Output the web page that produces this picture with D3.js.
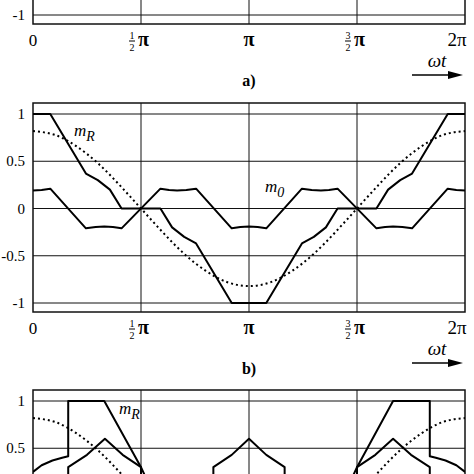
<!DOCTYPE html>
<html><head><meta charset="utf-8">
<script src="https://cdn.jsdelivr.net/npm/d3@7"></script>
<style>body{margin:0;background:#fff}</style>
</head><body>
<script>
// x values in units of pi
var xTicks = [0, 0.5, 1, 1.5, 2],
    yTicks = [1, 0.5, 0, -0.5, -1],
    yLabels = ["1", "0.5", "0", "-0.5", "-1"];

var cosX = [0,0.1,0.2,0.3,0.4,0.5,0.6,0.7,0.8,0.9,1,1.1,1.2,1.3,1.4,1.5,1.6,1.7,1.8,1.9,2],
    cosY = [0.82,0.78,0.66,0.48,0.25,0,-0.25,-0.48,-0.66,-0.78,-0.82,-0.78,-0.66,-0.48,-0.25,0,0.25,0.48,0.66,0.78,0.82];

var bR_x = [0,0.08,0.245,0.30,0.356,0.41,0.59,0.644,0.70,0.755,0.92,1.08,1.245,1.30,1.356,1.41,1.59,1.644,1.70,1.755,1.92,2],
    bR_y = [1,1,0.37,0.30,0.20,0,0,-0.2,-0.3,-0.37,-1,-1,-0.37,-0.3,-0.2,0,0,0.2,0.3,0.37,1,1];

var b0_x = [0,0.04,0.08,0.245,0.29,0.33,0.37,0.41,0.59,0.63,0.667,0.71,0.755,0.92,0.96,1,1.04,1.08,1.245,1.29,1.333,1.37,1.41,1.59,1.63,1.667,1.71,1.755,1.92,1.96,2],
    b0_y = [0.19,0.195,0.21,-0.21,-0.195,-0.19,-0.195,-0.21,0.21,0.195,0.19,0.195,0.21,-0.21,-0.195,-0.19,-0.195,-0.21,0.21,0.195,0.19,0.195,0.21,-0.21,-0.195,-0.19,-0.195,-0.21,0.21,0.195,0.19];

var cR_x = [0,0.04,0.09,0.135,0.163,0.163,0.33,0.5,0.56,1.44,1.5,1.667,1.837,1.837,1.865,1.91,1.96,2],
    cR_y = [0.25,0.32,0.37,0.40,0.415,1,1,0.3,0,0,0.3,1,1,0.415,0.40,0.37,0.32,0.25];

var c0_segs = [
  {x: [0.163,0.163,0.25,0.333,0.415,0.5,0.5], y: [0,0.3,0.43,0.6,0.43,0.3,0]},
  {x: [0.835,0.835,0.92,1,1.08,1.165,1.165], y: [0,0.3,0.43,0.6,0.43,0.3,0]},
  {x: [1.5,1.5,1.585,1.667,1.75,1.837,1.837], y: [0,0.3,0.43,0.6,0.43,0.3,0]}
];

var W = 474, H = 474, FONT = "'Liberation Serif', 'DejaVu Serif', serif";
var svg = d3.select("body").append("svg").attr("width", W).attr("height", H)
    .attr("font-family", FONT);
var x = d3.scaleLinear().domain([0, 2]).range([33, 465]);

function zip(xs, ys) { return xs.map(function(v, i) { return [v, ys[i]]; }); }

function panel(y1, opts) {
    var y = d3.scaleLinear().domain([-1, 1]).range([y1 + 189, y1]);
    var g = svg.append("g");
    var top = y1 - 11, bot = y1 + 189 + 9;
    g.selectAll(".hg").data(yTicks).join("line")
        .attr("x1", x(0)).attr("x2", x(2))
        .attr("y1", function(d) { return y(d); }).attr("y2", function(d) { return y(d); })
        .attr("stroke", "#111").attr("stroke-width", 1);
    g.selectAll(".vg").data(xTicks.slice(1, 4)).join("line")
        .attr("x1", function(d) { return x(d); }).attr("x2", function(d) { return x(d); })
        .attr("y1", top).attr("y2", bot)
        .attr("stroke", "#111").attr("stroke-width", 1);
    g.append("rect").attr("x", x(0)).attr("y", top).attr("width", x(2) - x(0)).attr("height", bot - top)
        .attr("fill", "none").attr("stroke", "#111").attr("stroke-width", 1.5);
    g.selectAll(".yl").data(yTicks.filter(function(d) { return y(d) > 8 && y(d) < H - 6; })).join("text")
        .attr("x", 25).attr("y", function(d) { return y(d) + 5; })
        .attr("text-anchor", "end").attr("font-size", 15)
        .text(function(d) { return yLabels[yTicks.indexOf(d)]; });

    var line = d3.line().x(function(d) { return x(d[0]); }).y(function(d) { return y(d[1]); });
    var cg = g.append("g");
    if (opts.clip) {
        svg.append("clipPath").attr("id", "clip" + y1).append("rect")
            .attr("x", x(0)).attr("y", top).attr("width", x(2) - x(0)).attr("height", bot - top);
        cg.attr("clip-path", "url(#clip" + y1 + ")");
    }
    (opts.curves || []).forEach(function(c) {
        cg.append("path").attr("d", line.curve(c.curve || d3.curveLinear)(zip(c.x, c.y)))
            .attr("fill", "none").attr("stroke", "#000").attr("stroke-width", 2)
            .attr("stroke-dasharray", c.dash || null).attr("stroke-linejoin", "round");
    });
    (opts.labels || []).forEach(function(l) {
        var t = g.append("text").attr("x", l.x).attr("y", l.y).attr("font-size", 17).attr("font-style", "italic").text("m");
        t.append("tspan").attr("dy", 5).attr("font-size", 14).text(l.sub);
    });
    if (opts.ticks) {
        var ty = bot + 22;
        xTicks.forEach(function(d, i) {
            var cx = x(d);
            if (i === 0) g.append("text").attr("x", cx).attr("y", ty).attr("text-anchor", "middle").attr("font-size", 17).text("0");
            else if (i === 2) g.append("text").attr("x", cx).attr("y", ty).attr("text-anchor", "middle").attr("font-size", 20).attr("font-weight", "bold").text("\u03c0");
            else if (i === 4) g.append("text").attr("x", cx - 8).attr("y", ty).attr("text-anchor", "middle").attr("font-size", 19).text("2\u03c0");
            else {
                g.append("text").attr("x", cx - 9).attr("y", ty - 7).attr("text-anchor", "middle").attr("font-size", 10).text(i === 1 ? "1" : "3");
                g.append("line").attr("x1", cx - 12).attr("x2", cx - 6).attr("y1", ty - 5).attr("y2", ty - 5).attr("stroke", "#000");
                g.append("text").attr("x", cx - 9).attr("y", ty + 5).attr("text-anchor", "middle").attr("font-size", 10).text("2");
                g.append("text").attr("x", cx - 3).attr("y", ty).attr("text-anchor", "start").attr("font-size", 20).attr("font-weight", "bold").text("\u03c0");
            }
        });
        g.append("text").attr("x", 437).attr("y", bot + 43).attr("text-anchor", "middle").attr("font-size", 19).attr("font-style", "italic").text("\u03c9t");
        g.append("line").attr("x1", 412).attr("x2", 450).attr("y1", bot + 51).attr("y2", bot + 51).attr("stroke", "#000").attr("stroke-width", 1.5);
        g.append("path").attr("d", "M448," + (bot + 47) + "L463," + (bot + 51) + "L448," + (bot + 55) + "Z").attr("fill", "#000");
        g.append("text").attr("x", x(1)).attr("y", bot + 62).attr("text-anchor", "middle").attr("font-size", 16).attr("font-weight", "bold").text(opts.tag);
    }
}

// panel a (only the bottom part is visible)
panel(15 - 189, {ticks: true, tag: "a)"});
// panel b
panel(114, {ticks: true, tag: "b)", curves: [
    {x: cosX, y: cosY, dash: "2,3", curve: d3.curveNatural},
    {x: bR_x, y: bR_y},
    {x: b0_x, y: b0_y}
], labels: [{x: 74, y: 136, sub: "R"}, {x: 265, y: 192, sub: "0"}]});
// panel c (cut off at the bottom)
panel(401, {clip: true, curves: [
    {x: cosX, y: cosY, dash: "2,3", curve: d3.curveNatural},
    {x: cR_x, y: cR_y}
].concat(c0_segs), labels: [{x: 119, y: 414, sub: "R"}]});
</script>
</body></html>
